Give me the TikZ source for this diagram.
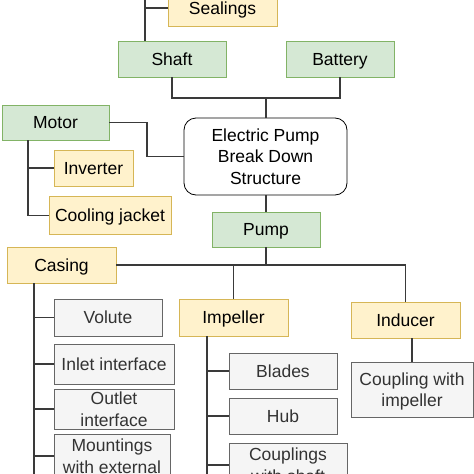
\documentclass[tikz,border=0pt]{standalone}
\usepackage{fontspec}
\setmainfont{Liberation Sans}
\usepackage{xcolor}
\usepackage{tikz}

\definecolor{grfill}{HTML}{D5E8D4}
\definecolor{grline}{HTML}{82B366}
\definecolor{yefill}{HTML}{FFF2CC}
\definecolor{yeline}{HTML}{D6B656}
\definecolor{gyfill}{HTML}{F5F5F5}
\definecolor{gyline}{HTML}{666666}
\definecolor{gytext}{HTML}{333333}
\definecolor{lncol}{HTML}{3A3A3A}

\begin{document}
\begin{tikzpicture}[x=1pt,y=-1pt,
		box/.style={rectangle,inner sep=0pt,minimum height=36pt,align=center,text depth=0pt,line width=0.8pt,font=\fontsize{17.5}{21.5}\selectfont},
		greenbox/.style={box,fill=grfill,draw=grline},
		yellowbox/.style={box,fill=yefill,draw=yeline},
		graybox/.style={box,fill=gyfill,draw=gyline,text=gytext},
		rootbox/.style={box,draw=black,fill=white,rounded corners=12pt},
		conn/.style={draw=lncol,line width=1.35pt}]
		\useasboundingbox (0,0) rectangle (474,474);
		\clip (0,0) rectangle (474,474);

		\node[yellowbox,minimum width=109pt] (seal) at (222.5,8) {Sealings};
		\node[greenbox,minimum width=108pt] (shaft) at (172,59) {Shaft};
		\node[greenbox,minimum width=108pt] (batt) at (340,59) {Battery};
		\node[rootbox,minimum width=163pt,minimum height=77pt] (ebds) at (265.5,156.5) {Electric Pump\\Break Down\\Structure};
		\node[greenbox,minimum width=107pt,minimum height=35pt] (motor) at (55.5,122.5) {Motor};
		\node[yellowbox,minimum width=79pt] (inv) at (93.5,168) {Inverter};
		\node[yellowbox,minimum width=122pt,minimum height=38pt] (cool) at (110,215.5) {Cooling jacket};
		\node[greenbox,minimum width=108pt,minimum height=35pt] (pump) at (266,229.5) {Pump};

		\node[yellowbox,minimum width=109pt] (casing) at (61.5,265) {Casing};
		\node[yellowbox,minimum width=109pt,minimum height=37pt] (imp) at (233.5,317.5) {Impeller};
		\node[yellowbox,minimum width=109pt] (ind) at (405.5,320) {Inducer};

		\node[graybox,minimum width=108pt,minimum height=37pt] (vol) at (108,317.5) {Volute};
		\node[graybox,minimum width=120pt,minimum height=40pt] (inlet) at (114,364) {Inlet interface};
		\node[graybox,minimum width=120pt,minimum height=40pt] (outlet) at (114,409) {Outlet\\interface};
		\node[graybox,minimum width=116pt,minimum height=44pt] (mount) at (112,456) {Mountings\\with external};

		\node[graybox,minimum width=108pt] (blades) at (283,371) {Blades};
		\node[graybox,minimum width=108pt] (hub) at (283,416) {Hub};
		\node[graybox,minimum width=118pt,minimum height=44pt] (cplsh) at (288,465) {Couplings\\with shaft};

		\node[graybox,minimum width=122pt,minimum height=55pt] (cplimp) at (412,389.5) {Coupling with\\impeller};

		\coordinate (shtop) at (145,-5);
		\coordinate (sbj) at (266,98);
		\coordinate (mj) at (147,140);
		\coordinate (mtrunk) at (28,140);
		\coordinate (ctrunk) at (34,283);
		\coordinate (cbot) at (34,480);
		\coordinate (itrunk) at (207,336);
		\coordinate (ibot) at (207,480);

		\draw[conn] (shtop) -- (shtop |- shaft.north);
		\draw[conn] (seal.west) -- (seal.west -| shtop);
		\draw[conn] (shaft.south) |- (sbj) -| (batt.south);
		\draw[conn] (sbj) -- (sbj |- ebds.north);
		\draw[conn] (motor.east) -| (mj) |- (ebds.west);
		\draw[conn] (mtrunk) |- (cool.west);
		\draw[conn] (inv.west) -- (inv.west -| mtrunk);
		\draw[conn] (ebds.south -| pump.north) -- (pump.north);

		\draw[conn] (pump.south) -- (pump.south |- casing.east);
		\draw[conn] (casing.east) -| (ind.north);
		\draw[conn] (imp.north) -- (imp.north |- casing.east);

		\draw[conn] (ctrunk) -- (cbot);
		\draw[conn] (vol.west) -- (vol.west -| ctrunk);
		\draw[conn] (inlet.west) -- (inlet.west -| ctrunk);
		\draw[conn] (outlet.west) -- (outlet.west -| ctrunk);
		\draw[conn] (mount.west) -- (mount.west -| ctrunk);

		\draw[conn] (itrunk) -- (ibot);
		\draw[conn] (blades.west) -- (blades.west -| itrunk);
		\draw[conn] (hub.west) -- (hub.west -| itrunk);
		\draw[conn] (cplsh.west) -- (cplsh.west -| itrunk);

		\draw[conn] (cplimp.north) -- (cplimp.north |- ind.south);
	\end{tikzpicture}
\end{document}
